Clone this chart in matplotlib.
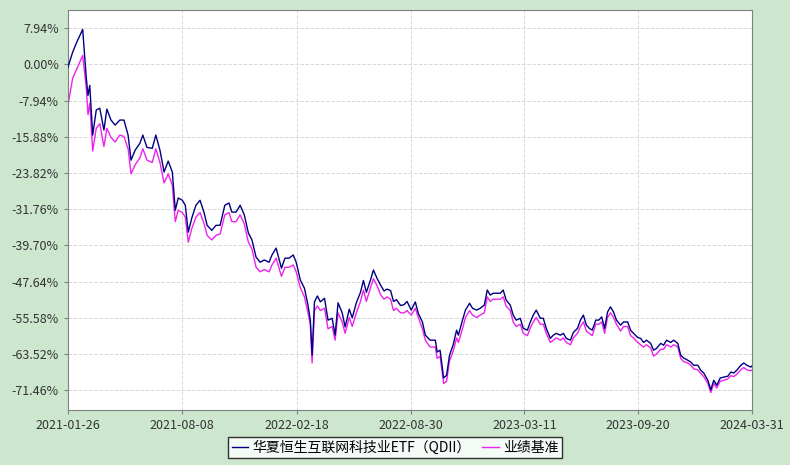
import matplotlib

matplotlib.use("Agg")

import matplotlib.pyplot as plt
import matplotlib.dates as mdates
import numpy as np
import pandas as pd

plt.rcParams["font.family"] = ["Noto Sans CJK SC", "DejaVu Sans"]

start = pd.Timestamp("2021-01-26")
day_offsets = [
    0, 8, 15, 25, 31, 34, 37, 42, 48, 54, 61, 66, 73, 80, 88, 95, 102, 107, 114, 122,
    127, 134, 143, 149, 156, 163, 170, 177, 182, 187, 194, 199, 204, 210, 217, 224, 231, 236, 244, 251,
    258, 266, 273, 278, 285, 292, 299, 306, 312, 319, 326, 333, 341, 346, 353, 362, 368, 375, 382, 387,
    394, 401, 407, 411, 414, 418, 423, 428, 435, 441, 448, 453, 458, 465, 470, 477, 482, 489, 496, 501,
    506, 513, 518, 524, 530, 536, 541, 547, 552, 557, 564, 570, 575, 582, 589, 594, 601, 606, 614, 623,
    626, 631, 637, 642, 647, 653, 659, 662, 669, 674, 681, 686, 693, 699, 706, 711, 716, 721, 728, 733,
    738, 743, 750, 755, 760, 767, 772, 779, 784, 789, 794, 801, 806, 811, 818, 823, 828, 835, 840, 845,
    852, 857, 864, 869, 874, 879, 884, 889, 895, 900, 905, 910, 915, 920, 925, 930, 937, 942, 949, 954,
    959, 966, 971, 976, 981, 988, 993, 998, 1005, 1010, 1015, 1022, 1027, 1034, 1039, 1044, 1051, 1056, 1061, 1068,
    1073, 1078, 1085, 1090, 1095, 1100, 1106, 1112, 1119, 1124, 1129, 1134, 1141, 1146, 1151, 1158, 1161,
]
fund = [
    -0.6, 2.7, 4.9, 7.7, -2.8, -6.8, -4.6, -15.5, -10, -9.6, -14.4, -9.8, -12.2, -13.3, -12.2, -12.2, -15.5, -21, -18.8, -17.3,
    -15.5, -18.2, -18.4, -15.5, -18.8, -23.6, -21.2, -23.6, -32, -29.3, -29.8, -30.9, -36.8, -33.7, -30.9, -29.8, -32.6, -35.3, -36.4, -35.3,
    -35.3, -30.9, -30.4, -32.4, -32.4, -30.9, -33, -37, -38.5, -42.3, -43.4, -42.9, -43.4, -41.8, -40.3, -44.7, -42.5, -42.5, -41.8, -43.4,
    -47.3, -49.1, -52.8, -56.1, -63.8, -52.1, -50.8, -52.1, -51.3, -56.1, -55.7, -59.4, -52.3, -54.5, -57.6, -53.7, -55.6, -52.3, -50, -47.4,
    -50, -47.3, -45.1, -46.9, -48.4, -49.7, -49.3, -49.6, -52, -51.6, -52.9, -52.7, -52, -53.9, -52.1, -54.6, -56.5, -59.4, -60.5, -60.5,
    -63.1, -62.7, -68.8, -68.2, -63.8, -61.6, -58.3, -59.4, -56.1, -53.9, -52.4, -53.5, -53.9, -53.5, -52.8, -49.5, -50.6, -50.2, -50.2, -50.2,
    -49.5, -51.7, -52.8, -55, -56.1, -55.7, -57.9, -58.3, -56.5, -55, -53.9, -55.7, -55.7, -57.9, -60.1, -59.4, -59, -59.4, -59, -60.1,
    -60.5, -58.8, -57.9, -56.1, -55, -57.2, -57.9, -58.3, -56.1, -56.1, -55.4, -57.9, -54.3, -53.2, -54.3, -56.1, -57.2, -56.5, -56.5, -58.3,
    -59, -59.9, -60.1, -61, -60.5, -61.2, -62.7, -62.3, -61.2, -61.6, -60.5, -61, -60.5, -61.2, -63.8, -64.4, -64.9, -65.3, -66, -66,
    -67.1, -67.7, -69.3, -71.4, -69.3, -70.4, -68.8, -68.6, -68.4, -67.5, -67.7, -67.1, -66, -65.5, -66, -66.4, -66,
]
benchmark = [
    -9.0, -3.0, -1.0, 2.0, -5, -11, -8.5, -19, -14, -13, -18, -14, -16, -17, -15.5, -15.8, -18.5, -24, -22, -20.5,
    -18.5, -21, -21.5, -18.5, -21.5, -26, -24, -26.5, -34.5, -32, -32.5, -33.5, -39, -36, -33.5, -32.5, -35, -37.5, -38.5, -37.5,
    -37.2, -33, -32.5, -34.5, -34.5, -33, -35, -39, -40.5, -44.5, -45.5, -45, -45.5, -44, -42.5, -46.5, -44.5, -44.5, -44, -45.5,
    -49, -51, -54.5, -57, -65.5, -54, -53, -54, -53.5, -58, -57.5, -60.5, -54.5, -56.5, -59, -55.5, -57.5, -54.5, -52, -49.5,
    -52, -49, -47, -48.5, -50.5, -51.5, -51, -51.5, -54, -53.5, -54.5, -54.5, -54, -55, -53.5, -55.5, -58, -60.5, -62, -62,
    -64.5, -64, -70, -69.5, -65, -63, -60, -61, -58, -55.5, -54, -55, -55.5, -55, -54.5, -51, -52, -51.5, -51.5, -51.5,
    -51, -53, -54, -56.5, -57.5, -57, -59, -59.5, -57.8, -56.5, -55.5, -57, -57, -59, -61, -60.5, -60, -60.5, -60, -61,
    -61.5, -60, -59, -57.5, -56.5, -58.5, -59, -59.5, -57, -57, -56.5, -59, -55.5, -54.5, -55.5, -57, -58.5, -57.5, -57.5, -59.5,
    -60, -61, -61.5, -62, -61.5, -62.2, -64, -63.5, -62.5, -62.5, -61.5, -62, -61.5, -62, -64.5, -65.2, -65.5, -66, -66.8, -67,
    -67.8, -68.5, -70, -72, -70, -71, -69.5, -69.3, -69, -68.3, -68.5, -68, -67, -66.5, -67, -67.2, -67,
]
tick_labels = ["2021-01-26", "2021-08-08", "2022-02-18", "2022-08-30",
               "2023-03-11", "2023-09-20", "2024-03-31"]
y_ticks = [7.94, 0.0, -7.94, -15.88, -23.82, -31.76, -39.70, -47.64, -55.58, -63.52, -71.46]

dates = start + pd.to_timedelta(day_offsets, unit="D")

bg = "#cde7cf"
fig = plt.figure(figsize=(7.9, 4.65), dpi=100, facecolor=bg)
ax = fig.add_axes([0.086, 0.118, 0.866, 0.86])
ax.set_facecolor("white")

ax.plot(dates, benchmark, color="#ee22ee", linewidth=1.0, label="业绩基准", zorder=2)
ax.plot(dates, fund, color="#000080", linewidth=1.0, label="华夏恒生互联网科技业ETF（QDII）", zorder=3)

ax.set_ylim(-75.85, 11.9)
ax.set_xlim(pd.Timestamp(tick_labels[0]), pd.Timestamp(tick_labels[-1]))
ax.set_yticks(y_ticks)
ax.set_yticklabels([f"{v:.2f}%" for v in y_ticks], fontsize=9, color="#333333")
ax.set_xticks([pd.Timestamp(t) for t in tick_labels])
ax.set_xticklabels(tick_labels, fontsize=9, color="#333333")
ax.grid(color="#d8d8d8", linestyle="--", linewidth=0.7)
ax.set_axisbelow(True)
for spine in ax.spines.values():
    spine.set_color("#808080")
ax.tick_params(length=3, color="#808080")

handles, labels = ax.get_legend_handles_labels()
leg = fig.legend(handles[::-1], labels[::-1], loc="lower center", bbox_to_anchor=(0.5, 0.0),
                 ncol=2, frameon=True, fancybox=False, fontsize=10, handlelength=1.2,
                 handletextpad=0.3, columnspacing=0.8, borderpad=0.25)
leg.get_frame().set_edgecolor("black")
leg.get_frame().set_linewidth(1.0)

fig.savefig("out.png", dpi=100, facecolor=bg)
